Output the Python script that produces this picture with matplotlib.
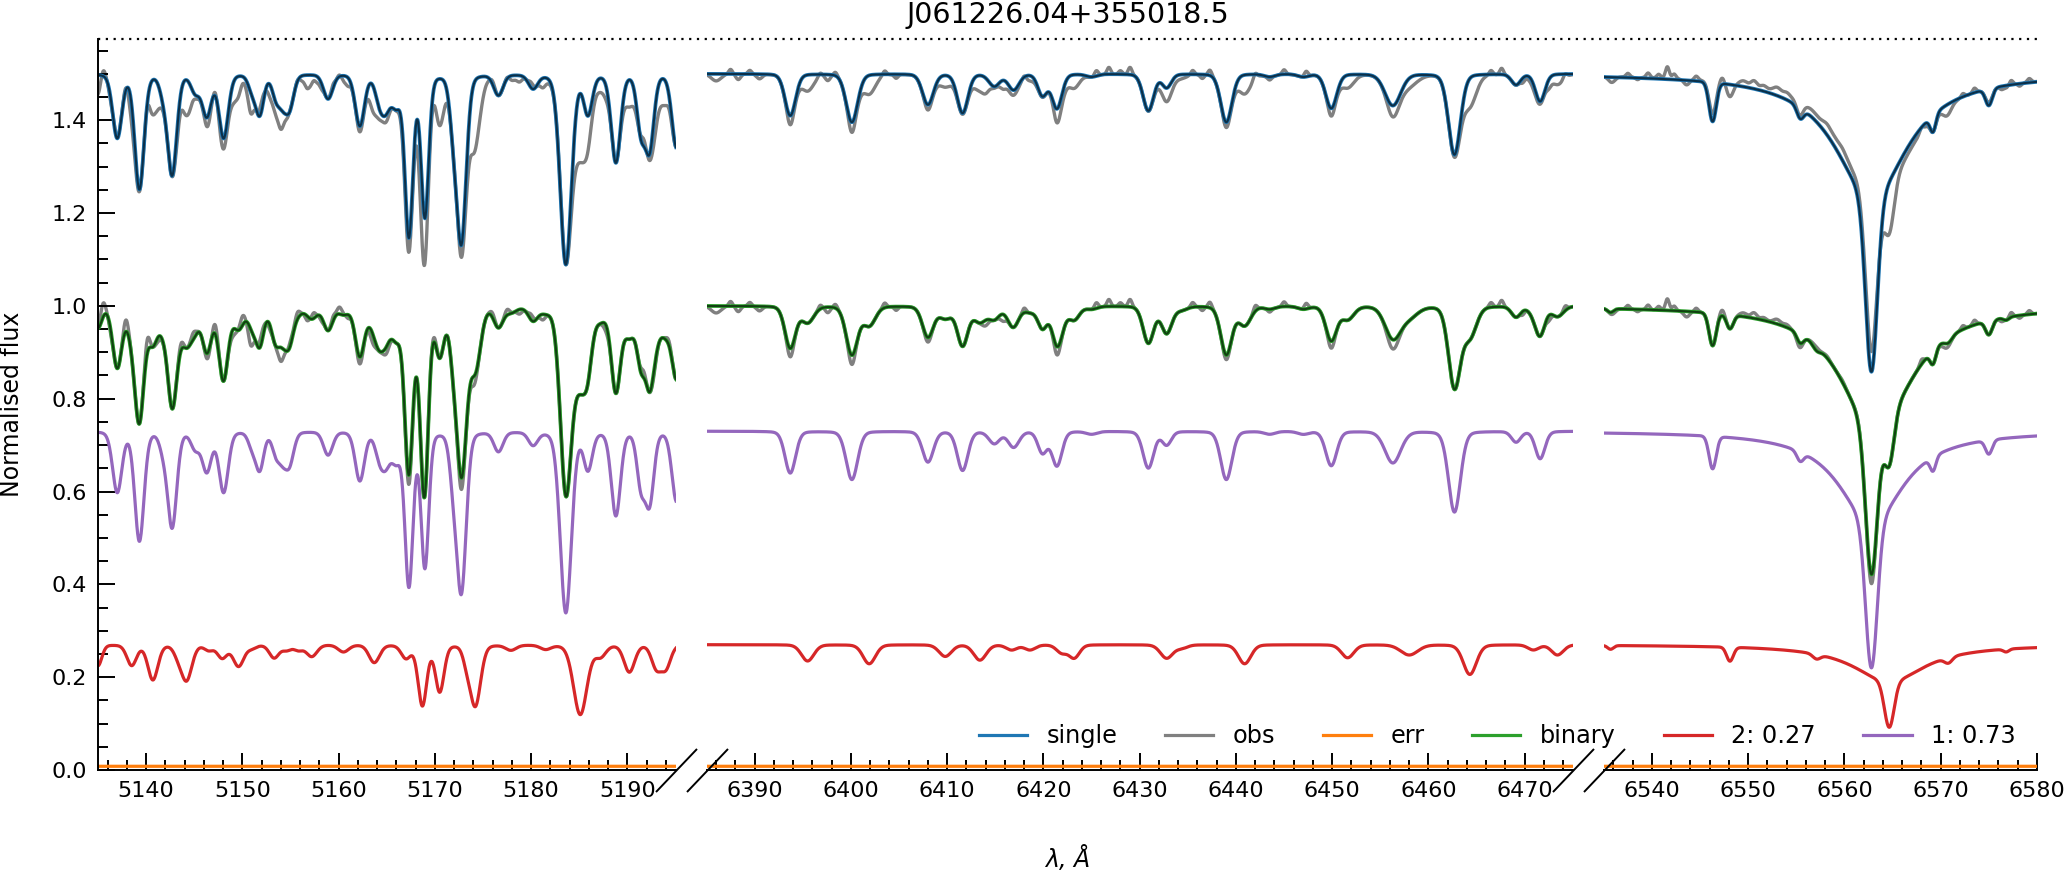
import numpy as np
import matplotlib.pyplot as plt
from matplotlib.lines import Line2D
from matplotlib.ticker import MultipleLocator, FormatStrFormatter

# ---- data ----
title = 'J061226.04+355018.5'
panel_ranges = [(5135, 5195), (6385, 6475), (6535, 6580)]

comp1_level = 0.73      # "1: 0.73"
comp2_level = 0.27      # "2: 0.27"
single_level = 1.5      # single fit is shifted up by 0.5
obs_shift = 0.5
single_scale = [1.05, 1.0, 1.2]
err_level = [0.008, 0.008, 0.008]
lorentz_frac = 0.15     # share of lorentzian wing in each line

# absorption lines: (centre, depth, sigma)
comp1_p1 = [(5137.0, 0.13, 0.48), (5139.3, 0.235, 0.48), (5141.75, 0.03, 0.40),
            (5142.7, 0.205, 0.48), (5145.1, 0.035, 0.45), (5146.3, 0.085, 0.48),
            (5148.05, 0.13, 0.48), (5151.0, 0.03, 0.40), (5151.8, 0.08, 0.42),
            (5153.5, 0.045, 0.42), (5154.2, 0.045, 0.42), (5154.9, 0.065, 0.45),
            (5158.9, 0.05, 0.48), (5162.2, 0.105, 0.48), (5164.2, 0.04, 0.45),
            (5164.9, 0.065, 0.52), (5166.0, 0.055, 0.45), (5167.3, 0.33, 0.42),
            (5168.96, 0.29, 0.40), (5171.9, 0.08, 0.40), (5172.75, 0.34, 0.50),
            (5176.6, 0.042, 0.48), (5180.2, 0.028, 0.48), (5183.6, 0.39, 0.58),
            (5185.9, 0.08, 0.45), (5188.8, 0.18, 0.48), (5191.4, 0.11, 0.42),
            (5192.3, 0.15, 0.45), (5195.1, 0.15, 0.48)]
comp2_p1 = [(5135.0, 0.045, 0.40), (5138.5, 0.044, 0.50), (5140.7, 0.075, 0.52),
            (5143.3, 0.018, 0.45), (5144.2, 0.075, 0.55), (5146.5, 0.011, 0.45),
            (5147.9, 0.028, 0.50), (5149.6, 0.046, 0.55), (5151.0, 0.007, 0.45),
            (5153.3, 0.028, 0.50), (5154.6, 0.011, 0.45), (5155.8, 0.011, 0.45),
            (5157.2, 0.025, 0.55), (5160.5, 0.015, 0.55), (5163.7, 0.038, 0.55),
            (5167.0, 0.028, 0.50), (5168.7, 0.13, 0.45), (5170.5, 0.10, 0.45),
            (5173.3, 0.028, 0.40), (5174.2, 0.13, 0.55), (5177.9, 0.011, 0.55),
            (5181.5, 0.009, 0.55), (5185.1, 0.15, 0.70), (5187.2, 0.024, 0.55),
            (5190.2, 0.058, 0.55), (5193.0, 0.048, 0.50), (5194.0, 0.048, 0.50)]

comp1_p2 = [(6393.7, 0.09, 0.55), (6400.1, 0.104, 0.60), (6408.0, 0.066, 0.57),
            (6411.6, 0.084, 0.55), (6414.9, 0.026, 0.57), (6416.9, 0.034, 0.57),
            (6419.9, 0.046, 0.48), (6421.4, 0.074, 0.52), (6425.0, 0.006, 0.57),
            (6430.9, 0.079, 0.55), (6432.8, 0.029, 0.48), (6439.0, 0.104, 0.58),
            (6443.5, 0.006, 0.57), (6447.0, 0.006, 0.57), (6449.9, 0.074, 0.57),
            (6456.3, 0.068, 0.82), (6462.7, 0.174, 0.62), (6469.1, 0.023, 0.48),
            (6471.6, 0.059, 0.50)]
comp2_p2 = [(6395.5, 0.035, 0.65), (6401.9, 0.041, 0.65), (6409.8, 0.025, 0.65),
            (6413.4, 0.033, 0.65), (6416.7, 0.011, 0.57), (6418.6, 0.011, 0.57),
            (6421.9, 0.017, 0.55), (6423.2, 0.028, 0.55), (6432.8, 0.029, 0.65),
            (6434.4, 0.007, 0.57), (6440.9, 0.041, 0.65), (6451.6, 0.028, 0.65),
            (6458.0, 0.022, 0.90), (6464.3, 0.064, 0.68), (6470.9, 0.011, 0.57),
            (6473.4, 0.022, 0.62)]

comp1_p3 = [(6546.3, 0.07, 0.37), (6555.4, 0.02, 0.35), (6562.8, 0.31, 0.60),
            (6569.2, 0.03, 0.30), (6575.0, 0.03, 0.35)]
comp2_p3 = [(6535.7, 0.008, 0.30), (6548.1, 0.03, 0.35), (6557.1, 0.01, 0.40),
            (6564.65, 0.098, 0.50), (6570.8, 0.012, 0.40), (6576.8, 0.006, 0.30)]

# H-alpha Lorentzian wings: (centre, depth, gamma)
comp1_wings = [[], [], [(6562.8, 0.20, 4.0)]]
comp2_wings = [[], [], [(6564.65, 0.08, 4.5)]]
single_wings = [[], [], [(6562.8, 0.27, 4.5)]]

# observed minus binary model: (centre, amplitude, sigma)
resid_p1 = [(5135.5, 0.03, 0.25), (5136.3, -0.01, 0.2), (5137.9, 0.025, 0.25),
            (5140.1, 0.03, 0.25), (5141.3, -0.01, 0.3), (5143.6, 0.015, 0.25),
            (5144.9, 0.015, 0.25), (5146.4, -0.012, 0.25), (5147.2, 0.02, 0.25),
            (5149.0, -0.015, 0.3), (5150.0, 0.02, 0.25), (5150.85, -0.035, 0.25),
            (5152.0, 0.02, 0.25), (5152.8, -0.01, 0.2), (5154.0, -0.03, 0.25),
            (5155.0, 0.01, 0.2), (5155.7, 0.015, 0.25), (5156.7, -0.01, 0.2),
            (5157.4, 0.012, 0.2), (5158.2, -0.008, 0.2), (5159.4, 0.01, 0.2),
            (5160.1, 0.015, 0.25), (5161.0, -0.008, 0.2), (5162.2, -0.015, 0.3),
            (5163.5, -0.02, 0.3), (5165.0, -0.015, 0.3), (5167.3, -0.02, 0.35),
            (5169.9, 0.01, 0.3), (5172.7, -0.025, 0.35), (5174.0, -0.02, 0.3),
            (5176.0, 0.01, 0.25), (5177.5, 0.012, 0.25), (5178.8, -0.01, 0.25),
            (5180.0, 0.012, 0.25), (5181.2, -0.012, 0.25), (5187.8, -0.015, 0.3),
            (5191.6, 0.015, 0.25), (5192.8, -0.01, 0.25), (5194.3, 0.01, 0.25)]
resid_p2 = [(6386.0, -0.015, 0.5), (6387.5, 0.01, 0.2), (6388.3, -0.012, 0.25),
            (6389.5, 0.008, 0.2), (6390.5, -0.01, 0.3), (6393.7, -0.018, 0.3),
            (6396.8, 0.008, 0.2), (6397.6, -0.012, 0.25), (6398.4, 0.008, 0.2),
            (6400.1, -0.02, 0.3), (6403.5, 0.01, 0.2), (6404.7, -0.008, 0.2),
            (6408.0, -0.01, 0.3), (6414.0, -0.012, 0.3), (6415.8, -0.015, 0.3),
            (6418.0, 0.01, 0.2), (6421.4, -0.018, 0.3), (6425.5, 0.012, 0.2),
            (6426.8, 0.015, 0.2), (6428.0, 0.008, 0.2), (6429.0, 0.016, 0.2),
            (6435.5, 0.01, 0.2), (6436.5, -0.008, 0.2), (6437.3, 0.012, 0.2),
            (6439.0, -0.01, 0.3), (6442.0, 0.012, 0.2), (6443.5, -0.006, 0.2),
            (6445.0, 0.01, 0.2), (6447.3, 0.012, 0.2), (6449.9, -0.015, 0.3),
            (6456.3, -0.02, 0.5), (6466.5, 0.01, 0.2), (6467.6, 0.014, 0.2),
            (6469.8, -0.008, 0.2), (6472.5, -0.012, 0.25), (6474.2, 0.01, 0.2)]
resid_p3 = [(6536.0, -0.006, 0.3), (6537.5, 0.008, 0.2), (6538.5, -0.005, 0.2),
            (6539.6, 0.01, 0.2), (6540.7, 0.008, 0.2), (6541.6, 0.025, 0.2),
            (6542.3, 0.01, 0.2), (6543.6, -0.012, 0.3), (6544.6, 0.008, 0.2),
            (6547.3, 0.012, 0.25), (6549.5, 0.008, 0.4), (6550.6, 0.012, 0.3),
            (6551.6, 0.006, 0.3), (6553.0, 0.01, 0.4), (6554.0, 0.006, 0.3),
            (6555.3, -0.01, 0.3), (6557.0, 0.008, 0.4), (6558.2, 0.004, 0.3),
            (6559.8, 0.004, 0.3), (6561.5, 0.004, 0.3), (6562.8, -0.02, 0.3),
            (6568.0, 0.01, 0.2), (6570.5, -0.01, 0.4), (6572.3, 0.008, 0.2),
            (6573.5, 0.01, 0.2), (6576.3, -0.006, 0.2), (6577.3, 0.01, 0.2),
            (6578.2, -0.006, 0.2), (6579.2, 0.008, 0.2)]

comp1_lines = [comp1_p1, comp1_p2, comp1_p3]
comp2_lines = [comp2_p1, comp2_p2, comp2_p3]
obs_resid = [resid_p1, resid_p2, resid_p3]


def line_sum(wl, lines, eta=lorentz_frac):
    # pseudo-voigt: gaussian core plus a bit of lorentzian wing
    out = np.zeros_like(wl)
    for c, d, s in lines:
        x = (wl - c) / s
        out += d * ((1 - eta) * np.exp(-0.5 * x ** 2) + eta / (1 + (x / 1.1774) ** 2))
    return out


def gauss_sum(wl, lines):
    return line_sum(wl, lines, eta=0.0)


def lorentz_sum(wl, lines):
    out = np.zeros_like(wl)
    for c, d, g in lines:
        out += d / (1 + ((wl - c) / g) ** 2)
    return out


W, H = 2068, 874
fig = plt.figure(figsize=(W / 100, H / 100), dpi=100)
left, right = 98 / W, 2037 / W
bottom, top = 1 - 770 / H, 1 - 39 / H
gs = fig.add_gridspec(1, 3, width_ratios=[r[1] - r[0] for r in panel_ranges],
                      left=left, right=right, bottom=bottom, top=top, wspace=0.0495)
axes = [fig.add_subplot(gs[0, i]) for i in range(3)]

lw = 2.3
for i, ax in enumerate(axes):
    lo, hi = panel_ranges[i]
    wl = np.arange(lo - 1, hi + 1, 0.04)
    eta = lorentz_frac if i < 2 else 0.0
    l1 = line_sum(wl, comp1_lines[i], eta)
    d1 = l1 + lorentz_sum(wl, comp1_wings[i])
    d2 = line_sum(wl, comp2_lines[i], eta) + lorentz_sum(wl, comp2_wings[i])
    comp1 = comp1_level - d1
    comp2 = comp2_level - d2
    binary = comp1 + comp2
    if single_wings[i]:
        single = single_level - single_scale[i] * l1 - lorentz_sum(wl, single_wings[i])
    else:
        single = single_level - single_scale[i] * d1
    obs = binary + gauss_sum(wl, obs_resid[i])
    err = np.full_like(wl, err_level[i])

    h_obs, = ax.plot(wl, obs + obs_shift, color='grey', lw=2.4, zorder=1)
    ax.plot(wl, obs, color='grey', lw=2.4, zorder=1)
    h_single, = ax.plot(wl, single, color='C0', lw=2.7, zorder=2)
    ax.plot(wl, single, color='k', alpha=0.6, lw=1.5, zorder=3)
    h_err, = ax.plot(wl, err, color='C1', lw=lw, zorder=2)
    h_bin, = ax.plot(wl, binary, color='C2', lw=2.7, zorder=2)
    ax.plot(wl, binary, color='k', alpha=0.6, lw=1.5, zorder=3)
    h_c2, = ax.plot(wl, comp2, color='C3', lw=lw, zorder=2)
    h_c1, = ax.plot(wl, comp1, color='C4', lw=lw, zorder=2)

    ax.set_xlim(lo, hi)
    ax.set_ylim(0, 1.575)
    ax.spines['top'].set_visible(False)
    ax.spines['right'].set_visible(False)
    for s in ax.spines.values():
        s.set_linewidth(1.4)
    ax.xaxis.set_major_locator(MultipleLocator(10))
    ax.xaxis.set_minor_locator(MultipleLocator(2))
    ax.yaxis.set_major_locator(MultipleLocator(0.2))
    ax.yaxis.set_minor_locator(MultipleLocator(0.05))
    ax.yaxis.set_major_formatter(FormatStrFormatter('%.1f'))
    ax.tick_params(which='major', direction='in', length=12, width=1.4,
                   labelsize=16, pad=8)
    ax.tick_params(which='minor', direction='in', length=7, width=1.4)
    if i > 0:
        ax.spines['left'].set_visible(False)
        ax.tick_params(which='both', left=False, labelleft=False)

# break marks
mk = dict(marker=[(-1, -1.05), (1, 1.05)], markersize=31, linestyle='none',
          color='k', mec='k', mew=1.4, clip_on=False)
for i in range(2):
    axes[i].plot([1], [0], transform=axes[i].transAxes, **mk)
    axes[i + 1].plot([0], [0], transform=axes[i + 1].transAxes, **mk)

# dotted top line across all panels
fig.add_artist(Line2D([left, right], [top, top], transform=fig.transFigure,
                      color='k', lw=1.6, linestyle=(0, (1, 2.5))))

leg = axes[2].legend([h_single, h_obs, h_err, h_bin, h_c2, h_c1],
                     ['single', 'obs', 'err', 'binary', '2: 0.27', '1: 0.73'],
                     loc='lower right', ncol=6, frameon=False, fontsize=17.3)
for h in leg.get_lines():
    h.set_linewidth(lw)

xc = 0.5 * (left + right)
fig.text(xc, 1 - 23 / H, title, ha='center', va='baseline', fontsize=20.5)
fig.text(12 / W, 0.5 * (bottom + top), 'Normalised flux', rotation=90,
         ha='center', va='center', fontsize=17)
fig.text(xc, 1 - 859 / H, 'λ, Å', style='italic', ha='center', va='center',
         fontsize=17)

fig.savefig('out.png', dpi=100)
